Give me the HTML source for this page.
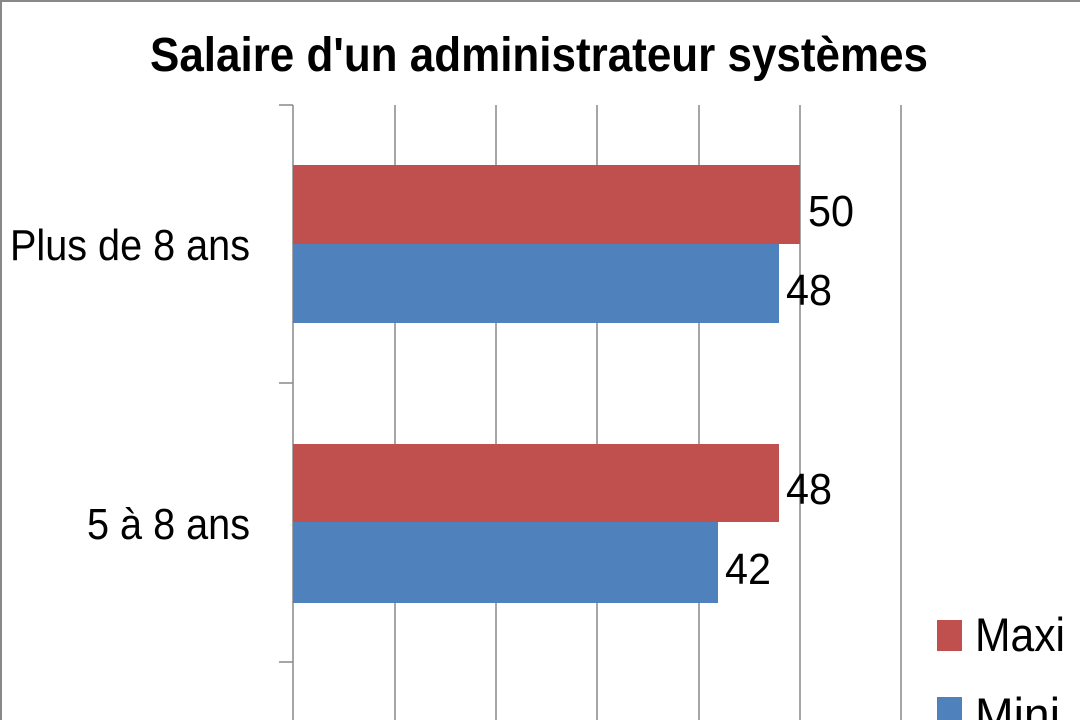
<!DOCTYPE html>
<html><head><style>html,body{margin:0;padding:0;background:#fff;}</style></head><body>
<svg width="1080" height="720" xmlns="http://www.w3.org/2000/svg" style="display:block">
<rect x="0" y="0" width="1080" height="720" fill="#fff"/>
<line x1="0" y1="1" x2="1080" y2="1" stroke="#888" stroke-width="2"/>
<line x1="1" y1="0" x2="1" y2="720" stroke="#888" stroke-width="2"/>
<text x="150" y="71" font-family="Liberation Sans, sans-serif" font-weight="bold" font-size="48" textLength="778" lengthAdjust="spacingAndGlyphs" fill="#000">Salaire d'un administrateur systèmes</text>
<g stroke="#888" stroke-width="1.5">
<line x1="395" y1="105" x2="395" y2="720"/>
<line x1="496" y1="105" x2="496" y2="720"/>
<line x1="597" y1="105" x2="597" y2="720"/>
<line x1="699" y1="105" x2="699" y2="720"/>
<line x1="800" y1="105" x2="800" y2="720"/>
<line x1="901" y1="105" x2="901" y2="720"/>
<line x1="293" y1="105" x2="293" y2="720"/>
<line x1="279" y1="105" x2="293" y2="105"/>
<line x1="279" y1="383" x2="293" y2="383"/>
<line x1="279" y1="662" x2="293" y2="662"/>
</g>
<rect x="293" y="165" width="507" height="79" fill="#c0504d"/>
<rect x="293" y="244" width="486" height="79" fill="#4f81bd"/>
<rect x="293" y="444" width="486" height="78" fill="#c0504d"/>
<rect x="293" y="522" width="425" height="81" fill="#4f81bd"/>
<g font-family="Liberation Sans, sans-serif" font-size="44" fill="#000">
<text x="808" y="226" textLength="46" lengthAdjust="spacingAndGlyphs">50</text>
<text x="786" y="305" textLength="46" lengthAdjust="spacingAndGlyphs">48</text>
<text x="786" y="504" textLength="46" lengthAdjust="spacingAndGlyphs">48</text>
<text x="725" y="584" textLength="46" lengthAdjust="spacingAndGlyphs">42</text>
<text x="10" y="260" textLength="240" lengthAdjust="spacingAndGlyphs">Plus de 8 ans</text>
<text x="87" y="539" textLength="163" lengthAdjust="spacingAndGlyphs">5 à 8 ans</text>
<text x="975" y="651" font-size="47" textLength="90" lengthAdjust="spacingAndGlyphs">Maxi</text>
<text x="975" y="731" font-size="47" textLength="85" lengthAdjust="spacingAndGlyphs">Mini</text>
</g>
<rect x="937" y="620" width="25" height="31" fill="#c0504d"/>
<rect x="937" y="697" width="25" height="31" fill="#4f81bd"/>
</svg>
</body></html>
